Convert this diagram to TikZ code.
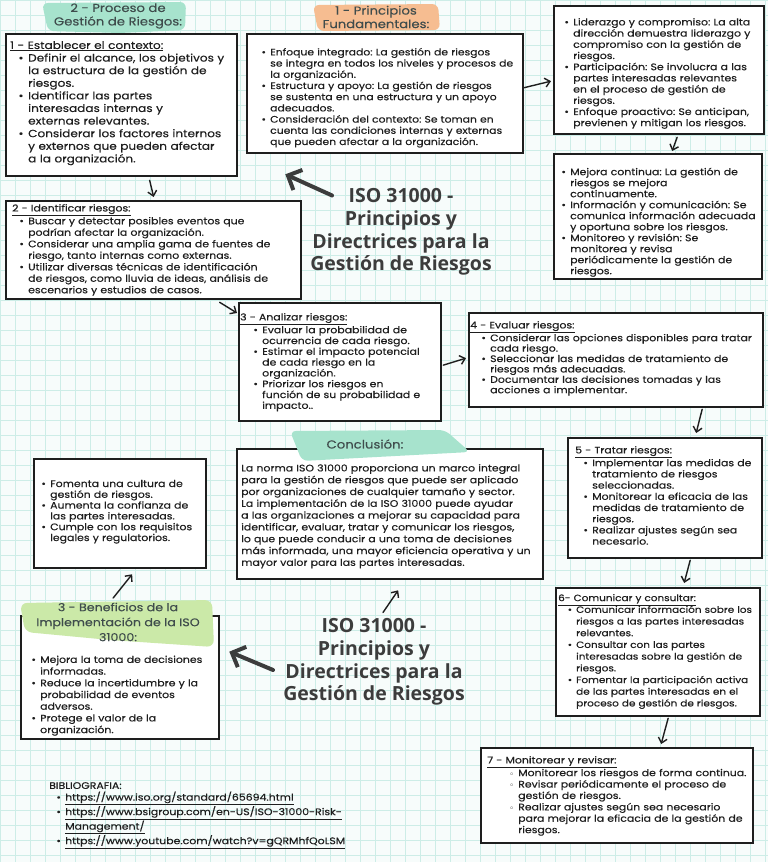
\documentclass[tikz,border=0pt]{standalone}
\usepackage{fontspec}
\setmainfont{Poppins}[FakeStretch=1.15,FakeBold=0.3]
\newfontfamily\titlefont{Open Sans}
\usetikzlibrary{arrows.meta,positioning}

\definecolor{paper}{HTML}{F7FCFB}
\definecolor{gridc}{HTML}{CDEDE7}
\definecolor{ink}{HTML}{1E1E1E}
\definecolor{slate}{HTML}{3C3C3C}
\definecolor{headc}{HTML}{3F4C4C}
\definecolor{mint}{HTML}{A7E3CD}
\definecolor{peach}{HTML}{F6BD91}
\definecolor{lime}{HTML}{CBE9A8}

\frenchspacing
\newlength{\itmind}
\newcommand{\nl}{\hfil\break}
\newcommand{\itm}[1]{\par\noindent\hangindent=\itmind\hangafter=1\makebox[\itmind][r]{\textbullet\hspace{0.45em}}#1\par}
\newcommand{\itmo}[1]{\par\noindent\hangindent=\itmind\hangafter=1\makebox[\itmind][r]{\raisebox{0.2ex}{$\scriptscriptstyle\circ$}\hspace{0.5em}}#1\par}

\begin{document}
\begin{tikzpicture}[
  x=1pt, y=-1pt,
  card/.style={draw=ink, line width=2.3pt, fill=white, anchor=north west, inner sep=0pt},
  txt/.style={anchor=north west, inner sep=0pt, align=left, text=ink, font=\fontsize{9.5}{11.2}\selectfont},
  ind/.style={execute at begin node={\setlength{\itmind}{#1}}},
  hd/.style={align=center, inner sep=0pt, text=headc, font=\fontsize{11.5}{13.5}\selectfont},
  bigtitle/.style={align=center, inner sep=0pt, text=slate, font=\titlefont\bfseries\fontsize{19.5}{22.6}\selectfont},
  smallarrow/.style={-{Straight Barb[length=5pt,width=9pt]}, line width=1.4pt, draw=ink, line cap=round},
  bigarrow/.style={-{Straight Barb[length=11pt,width=22pt]}, line width=4pt, draw=slate, line cap=round},
]
% paper and grid
\path[use as bounding box, fill=paper] (0,0) rectangle (768,862);
\draw[gridc, line width=0.6pt, step=15pt] (0,0) grid (768,862);

% highlights of the top headings
\fill[mint, rounded corners=6pt] (42,3) -- (186,2) -- (185,30) -- (120,33) -- (48,31) -- cycle;
\fill[peach, rounded corners=6pt] (313,5) -- (438,4) -- (440,30) -- (318,31) -- cycle;
\node[hd] (hdproc) at (118,16) {2 - Proceso de\\Gestión de Riesgos:};
\node[hd] (hdprin) at (376,17) {1 - Principios\\Fundamentales:};

% boxes
\node[card, minimum width=231pt, minimum height=142pt] (ctx) at (5,33) {};
\node[card, minimum width=276pt, minimum height=119pt] (pri) at (246,33) {};
\node[card, minimum width=210pt, minimum height=128pt] (lid) at (553,5) {};
\node[card, minimum width=208pt, minimum height=125pt] (mej) at (553,153) {};
\node[card, minimum width=295pt, minimum height=98pt] (ide) at (5,200) {};
\node[card, minimum width=202pt, minimum height=118pt] (ana) at (238,302) {};
\node[card, minimum width=294pt, minimum height=94pt] (eva) at (468,312) {};
\node[card, minimum width=194pt, minimum height=120pt] (tra) at (567,437) {};
\node[card, minimum width=204pt, minimum height=128pt] (com) at (555,587) {};
\node[card, minimum width=272pt, minimum height=95pt] (mon) at (480,747) {};
\node[card, minimum width=172pt, minimum height=109pt] (fom) at (33,458) {};
\node[card, minimum width=306pt, minimum height=130pt] (con) at (236,448) {};
\node[card, minimum width=198pt, minimum height=123pt] (ben) at (20,615) {};

% box texts
\node[txt, ind=18pt, text width=250pt, font=\fontsize{10.5}{12.6}\selectfont] (tctx) at (10,41) {%
\underline{1 - Establecer el contexto:}
\itm{Definir el alcance, los objetivos y\nl la estructura de la gestión de\nl riesgos.}
\itm{Identificar las partes\nl interesadas internas y\nl externas relevantes.}
\itm{Considerar los factores internos\nl y externos que pueden afectar\nl a la organización.}};
\node[txt, ind=12pt, text width=300pt, font=\fontsize{9.4}{11.2}\selectfont] (tpri) at (258,44) {%
\itm{Enfoque integrado: La gestión de riesgos\nl se integra en todos los niveles y procesos de\nl la organización.}
\itm{Estructura y apoyo: La gestión de riesgos\nl se sustenta en una estructura y un apoyo\nl adecuados.}
\itm{Consideración del contexto: Se toman en\nl cuenta las condiciones internas y externas\nl que pueden afectar a la organización.}};
\node[txt, ind=12pt, text width=230pt] (tlid) at (561,14) {%
\itm{Liderazgo y compromiso: La alta\nl dirección demuestra liderazgo y\nl compromiso con la gestión de\nl riesgos.}
\itm{Participación: Se involucra a las\nl partes interesadas relevantes\nl en el proceso de gestión de\nl riesgos.}
\itm{Enfoque proactivo: Se anticipan,\nl previenen y mitigan los riesgos.}};
\node[txt, ind=10pt, text width=230pt, font=\fontsize{9.5}{11}\selectfont] (tmej) at (560,164) {%
\itm{Mejora continua: La gestión de\nl riesgos se mejora\nl continuamente.}
\itm{Información y comunicación: Se\nl comunica información adecuada\nl y oportuna sobre los riesgos.}
\itm{Monitoreo y revisión: Se\nl monitorea y revisa\nl periódicamente la gestión de\nl riesgos.}};
\node[txt, ind=16pt, text width=320pt, font=\fontsize{9.5}{11.5}\selectfont] (tide) at (12,204) {%
\underline{2 - Identificar riesgos:}
\itm{Buscar y detectar posibles eventos que\nl podrían afectar la organización.}
\itm{Considerar una amplia gama de fuentes de\nl riesgo, tanto internas como externas.}
\itm{Utilizar diversas técnicas de identificación\nl de riesgos, como lluvia de ideas, análisis de\nl escenarios y estudios de casos.}};
\node[txt, ind=22pt, text width=230pt, font=\fontsize{9.5}{10.8}\selectfont] (tana) at (240,313) {%
\underline{3 - Analizar riesgos:}
\itm{Evaluar la probabilidad de\nl ocurrencia de cada riesgo.}
\itm{Estimar el impacto potencial\nl de cada riesgo en la\nl organización.}
\itm{Priorizar los riesgos en\nl función de su probabilidad e\nl impacto..}};
\node[txt, ind=20pt, text width=320pt, font=\fontsize{9.5}{10.4}\selectfont] (teva) at (470,321) {%
\underline{4 - Evaluar riesgos:}
\itm{Considerar las opciones disponibles para tratar\nl cada riesgo.}
\itm{Seleccionar las medidas de tratamiento de\nl riesgos más adecuadas.}
\itm{Documentar las decisiones tomadas y las\nl acciones a implementar.}};
\node[txt, ind=17pt, text width=220pt] (ttra) at (575,446) {%
\underline{5 - Tratar riesgos:}
\itm{Implementar las medidas de\nl tratamiento de riesgos\nl seleccionadas.}
\itm{Monitorear la eficacia de las\nl medidas de tratamiento de\nl riesgos.}
\itm{Realizar ajustes según sea\nl necesario.}};
\node[txt, ind=18pt, text width=230pt, font=\fontsize{9.1}{11.7}\selectfont] (tcom) at (558,594) {%
\underline{6- Comunicar y consultar:}
\itm{Comunicar información sobre los\nl riesgos a las partes interesadas\nl relevantes.}
\itm{Consultar con las partes\nl interesadas sobre la gestión de\nl riesgos.}
\itm{Fomentar la participación activa\nl de las partes interesadas en el\nl proceso de gestión de riesgos.}};
\node[txt, ind=31pt, text width=300pt, font=\fontsize{9.5}{11.4}\selectfont] (tmon) at (487,756) {%
\underline{7 - Monitorear y revisar:}
\itmo{Monitorear los riesgos de forma continua.}
\itmo{Revisar periódicamente el proceso de\nl gestión de riesgos.}
\itmo{Realizar ajustes según sea necesario\nl para mejorar la eficacia de la gestión de\nl riesgos.}};
\node[txt, ind=10pt, text width=200pt, font=\fontsize{9.5}{10.8}\selectfont] (tfom) at (40,476) {%
\itm{Fomenta una cultura de\nl gestión de riesgos.}
\itm{Aumenta la confianza de\nl las partes interesadas.}
\itm{Cumple con los requisitos\nl legales y regulatorios.}};
\node[txt, text width=330pt, font=\fontsize{9.5}{11.8}\selectfont] (tcon) at (241,464) {%
La norma ISO 31000 proporciona un marco integral\nl
para la gestión de riesgos que puede ser aplicado\nl
por organizaciones de cualquier tamaño y sector.\nl
La implementación de la ISO 31000 puede ayudar\nl
a las organizaciones a mejorar su capacidad para\nl
identificar, evaluar, tratar y comunicar los riesgos,\nl
lo que puede conducir a una toma de decisiones\nl
más informada, una mayor eficiencia operativa y un\nl
mayor valor para las partes interesadas.};
\node[txt, ind=10pt, text width=230pt, font=\fontsize{9.5}{11.7}\selectfont] (tben) at (30,651) {%
\itm{Mejora la toma de decisiones\nl informadas.}
\itm{Reduce la incertidumbre y la\nl probabilidad de eventos\nl adversos.}
\itm{Protege el valor de la\nl organización.}};

% headings laid over the lower boxes
\fill[mint, rounded corners=6pt] (290,431) -- (445,430) -- (470,452) -- (302,461) -- cycle;
\node[hd] (hdcon) at (365,444) {Conclusión:};
\fill[lime, rounded corners=7pt] (20,603) -- (212,600) -- (214,647) -- (110,640) -- (25,632) -- cycle;
\node[hd, font=\fontsize{11}{15}\selectfont] (hdben) at (118,622) {3 - Beneficios de la\\Implementación de la ISO\\31000:};

% central titles
\node[bigtitle] (tit1) at (401,232) {ISO 31000 -\\Principios y\\Directrices para la\\Gestión de Riesgos};
\node[bigtitle] (tit2) at (374,662) {ISO 31000 -\\Principios y\\Directrices para la\\Gestión de Riesgos};

% bibliography
\node[txt, ind=16pt, text width=340pt, font=\fontsize{9.5}{11.7}\selectfont] (bib) at (49,782) {%
BIBLIOGRAFIA:
\itm{\underline{https://www.iso.org/standard/65694.html}}
\itm{\underline{https://www.bsigroup.com/en-US/ISO-31000-Risk-}\nl \underline{Management/}}
\itm{\underline{https://www.youtube.com/watch?v=gQRMhfQoLSM}}};

% connectors
\draw[smallarrow] ([xshift=28pt,yshift=-3pt]ctx.south) -- ([yshift=3pt]ide.north);
\draw[smallarrow] ([yshift=6pt]pri.east) -- ([xshift=-2pt,yshift=-11pt]lid.west);
\draw[smallarrow] ([xshift=18pt,yshift=-2pt]lid.south) -- ([xshift=14pt,yshift=2pt]mej.north);
\draw[smallarrow] ([xshift=66pt,yshift=-2pt]ide.south) -- ([xshift=-1pt,yshift=-11pt]ana.north west);
\draw[smallarrow] ([xshift=1pt,yshift=-3pt]ana.east) -- ([xshift=-2pt,yshift=2pt]eva.west);
\draw[smallarrow] ([xshift=86pt,yshift=-1pt]eva.south) -- ([xshift=31pt,yshift=4pt]tra.north);
\draw[smallarrow] ([xshift=25pt,yshift=-1pt]tra.south) -- ([xshift=26pt,yshift=4pt]com.north);
\draw[smallarrow] ([xshift=10pt,yshift=-1pt]com.south) -- ([xshift=44pt,yshift=3pt]mon.north);
\draw[smallarrow] ([xshift=-7pt,yshift=17pt]ben.north) -- ([xshift=12pt,yshift=-5pt]fom.south);
\draw[smallarrow] ([xshift=9pt,yshift=6pt]tit2.north) -- ([xshift=8pt,yshift=-10pt]con.south);
\draw[bigarrow] ([xshift=22pt,yshift=-7pt]tit1.north west) -- ([xshift=47pt,yshift=3pt]ctx.south east);
\draw[bigarrow] ([xshift=-10pt,yshift=-8pt]tit2.west) -- ([xshift=9pt,yshift=26pt]ben.east);
\end{tikzpicture}
\end{document}
